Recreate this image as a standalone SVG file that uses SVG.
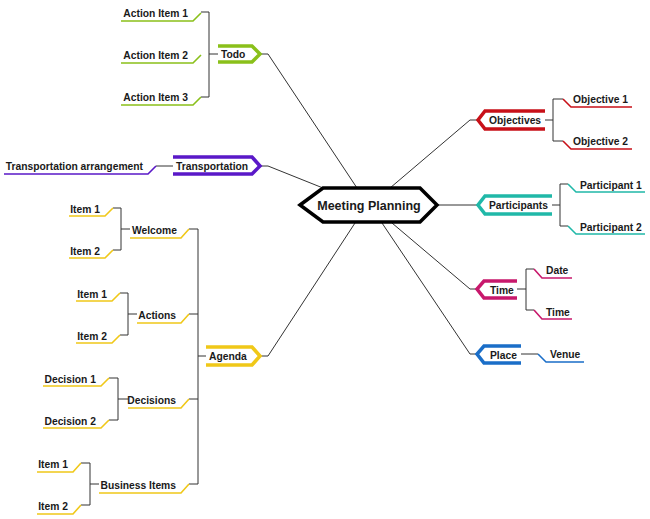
<svg xmlns="http://www.w3.org/2000/svg" width="650" height="519" viewBox="0 0 650 519">
<style>
text{font-family:"Liberation Sans",Arial,sans-serif;font-weight:bold;font-size:10.3px;fill:#1a1a1a}
.c{fill:none;stroke:#333;stroke-width:1}
.n{fill:none;stroke-width:3.5}
.l{fill:none;stroke-width:1.6}
.e{text-anchor:end}
.g{stroke:#8ac01a}.p{stroke:#5a18c8}.r{stroke:#c81018}.t{stroke:#20b8a8}.m{stroke:#c8186c}.b{stroke:#1a6ec8}.y{stroke:#f0c818}
</style>
<rect width="650" height="519" fill="#fff"/>
<g id="connectors">
<path class="c" d="M260 54H268L357 188M260 166H268L323 188M478 120H470L390 188M437 205H478M477 289H470L392 223M477 354H470L382 223M260 356H268L355 223"/>
<path class="c" d="M201 12H209V97H201M209 54H218M156 166H173"/>
<path class="c" d="M545 120H553M553 99V141M560 184V226M552 205H560M517 289H526M526 269V310M521 354H538"/>
<path class="c" d="M553 99H563M553 141H563M560 184H568M560 226H568M526 269H534M526 310H534"/>
<path class="c" d="M198 229V484M198 356H206M189 229H198M189 314H198M189 399H198M189 484H198"/>
<path class="c" d="M113 208H121V250H113M121 229H130M120 293H128V335H120M128 314H137M109 378H118V420H109M118 399H128M81 463H90V505H81M90 484H99"/>
</g>
<g id="center"><path d="M300 205L323 188H420L437 205L420 222H323Z" fill="#fff" stroke="#000" stroke-width="3.5"/><text x="369" y="210" text-anchor="middle" style="font-size:12.5px">Meeting Planning</text></g>
<g id="todo"><path class="n g" d="M218 46H252L260 54L252 62H218"/><text x="221" y="58">Todo</text></g>
<g id="ai1"><path class="l g" d="M121 21H193L201 13"/><text class="e" x="188" y="17">Action Item 1</text></g>
<g id="ai2"><path class="l g" d="M121 63H193L201 55"/><text class="e" x="188" y="59">Action Item 2</text></g>
<g id="ai3"><path class="l g" d="M121 105H193L201 97"/><text class="e" x="188" y="101">Action Item 3</text></g>
<g id="transportation"><path class="n p" d="M173 157H252L260 166L252 174H173"/><text x="176" y="170">Transportation</text></g>
<g id="tra"><path class="l p" d="M4 174H148L156 166"/><text class="e" x="143" y="170">Transportation arrangement</text></g>
<g id="objectives"><path class="n r" d="M545 111H485L478 120L485 129H545"/><text x="489" y="124">Objectives</text></g>
<g id="obj1"><path class="l r" d="M563 99L571 107H632"/><text x="573" y="103">Objective 1</text></g>
<g id="obj2"><path class="l r" d="M563 141L571 149H632"/><text x="573" y="145">Objective 2</text></g>
<g id="participants"><path class="n t" d="M552 196H485L478 205L485 214H552"/><text x="489" y="209">Participants</text></g>
<g id="par1"><path class="l t" d="M568 184L576 192H645"/><text x="580" y="189">Participant 1</text></g>
<g id="par2"><path class="l t" d="M568 226L576 234H645"/><text x="580" y="231">Participant 2</text></g>
<g id="time"><path class="n m" d="M517 281H484L477 289L484 298H517"/><text x="490" y="294">Time</text></g>
<g id="date"><path class="l m" d="M534 269L542 278H572"/><text x="546" y="274">Date</text></g>
<g id="time2"><path class="l m" d="M534 310L542 319H572"/><text x="546" y="316">Time</text></g>
<g id="place"><path class="n b" d="M521 346H484L477 354L484 363H521"/><text x="490" y="359">Place</text></g>
<g id="venue"><path class="l b" d="M538 354L546 362H584"/><text x="550" y="358">Venue</text></g>
<g id="agenda"><path class="n y" d="M206 347H252L260 356L252 365H206"/><text x="209" y="360">Agenda</text></g>
<g id="welcome"><path class="l y" d="M130 238H181L189 229"/><text class="e" x="177" y="234">Welcome</text></g>
<g id="w1"><path class="l y" d="M69 216H105L113 208"/><text class="e" x="100" y="213">Item 1</text></g>
<g id="w2"><path class="l y" d="M69 258H105L113 250"/><text class="e" x="100" y="255">Item 2</text></g>
<g id="actions"><path class="l y" d="M137 323H181L189 314"/><text class="e" x="176" y="319">Actions</text></g>
<g id="a1"><path class="l y" d="M76 301H112L120 293"/><text class="e" x="107" y="298">Item 1</text></g>
<g id="a2"><path class="l y" d="M76 343H112L120 335"/><text class="e" x="107" y="340">Item 2</text></g>
<g id="decisions"><path class="l y" d="M128 408H181L189 399"/><text class="e" x="176" y="404">Decisions</text></g>
<g id="d1"><path class="l y" d="M43 386H101L109 378"/><text class="e" x="96" y="383">Decision 1</text></g>
<g id="d2"><path class="l y" d="M43 428H101L109 420"/><text class="e" x="96" y="425">Decision 2</text></g>
<g id="business"><path class="l y" d="M99 493H181L189 484"/><text class="e" x="176" y="489">Business Items</text></g>
<g id="b1"><path class="l y" d="M37 472H73L81 463"/><text class="e" x="68" y="468">Item 1</text></g>
<g id="b2"><path class="l y" d="M37 514H73L81 505"/><text class="e" x="68" y="510">Item 2</text></g>
</svg>
